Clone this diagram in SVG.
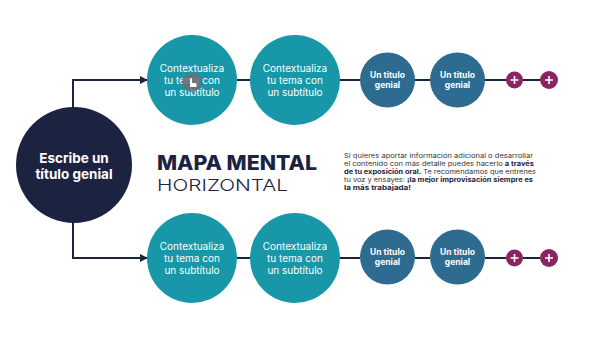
<svg xmlns="http://www.w3.org/2000/svg" width="600" height="338" viewBox="0 0 600 338">
<defs>
<marker id="arr" viewBox="0 0 10 10" refX="9" refY="5" markerWidth="4" markerHeight="4" orient="auto"><path d="M0,0 L10,5 L0,10 z" fill="#1c2340"/></marker>
<style>
.ln{stroke:#1c2340;stroke-width:2;fill:none}
.teal{fill:#1797a8}
.blue{fill:#2e6b90}
.plus{fill:#8b2463}
.tt{font-family:Inter,"Open Sans",sans-serif;fill:#fff;font-size:10px;text-anchor:middle}
.bt{font-family:Inter,"Open Sans",sans-serif;fill:#fff;font-size:8.5px;font-weight:bold;text-anchor:middle}
.pl{stroke:#fff;stroke-width:1.6}
.para{font-family:Inter,"Open Sans",sans-serif;font-size:6.6px;fill:#333}
.para tspan.b{font-weight:bold;fill:#1c2340}
</style>
</defs>
<rect width="600" height="338" fill="#fff"/>
<g id="connectors">
<path class="ln" d="M73,108 V80 H147" marker-end="url(#arr)"/>
<path class="ln" d="M73,222 V258 H147" marker-end="url(#arr)"/>
<path class="ln" d="M237,80 H250 M340,80 H360 M415,80 H430 M485,80 H506 M523,80 H540"/>
<path class="ln" d="M237,258 H250 M340,258 H360 M415,258 H430 M485,258 H506 M523,258 H540"/>
</g>
<g id="main"><circle cx="74" cy="165" r="58" fill="#1c2340"/>
<text x="74" y="163" font-family="Inter,'Open Sans',sans-serif" font-size="13.5" font-weight="bold" fill="#fff" text-anchor="middle">Escribe un</text>
<text x="74" y="179" font-family="Inter,'Open Sans',sans-serif" font-size="13.5" font-weight="bold" fill="#fff" text-anchor="middle">título genial</text></g>
<g id="t1"><circle class="teal" cx="192" cy="80" r="45"/><text class="tt" x="192" y="72">Contextualiza</text><text class="tt" x="192" y="84">tu tema con</text><text class="tt" x="192" y="96">un subtítulo</text>
<circle cx="192" cy="82" r="10" fill="#6b6f78" opacity="0.85"/><path d="M190,87 v-8 a1,1 0 0 1 2,0 v4 h3 a1.5,1.5 0 0 1 1.5,1.5 v2.5 h-6.5z" fill="#fff"/></g>
<g id="t2"><circle class="teal" cx="295" cy="80" r="45"/><text class="tt" x="295" y="72">Contextualiza</text><text class="tt" x="295" y="84">tu tema con</text><text class="tt" x="295" y="96">un subtítulo</text></g>
<g id="t3"><circle class="blue" cx="387.5" cy="80" r="27.5"/><text class="bt" x="387.5" y="78">Un titulo</text><text class="bt" x="387.5" y="88">genial</text></g>
<g id="t4"><circle class="blue" cx="457.5" cy="80" r="27.5"/><text class="bt" x="457.5" y="78">Un titulo</text><text class="bt" x="457.5" y="88">genial</text></g>
<g id="t5"><circle class="plus" cx="514.5" cy="80" r="8.5"/><path class="pl" d="M510.5,80 h8 M514.5,76 v8"/></g>
<g id="t6"><circle class="plus" cx="549" cy="80" r="9"/><path class="pl" d="M545,80 h8 M549,76 v8"/></g>
<g id="b1"><circle class="teal" cx="192" cy="258" r="45"/><text class="tt" x="192" y="250">Contextualiza</text><text class="tt" x="192" y="262">tu tema con</text><text class="tt" x="192" y="274">un subtítulo</text></g>
<g id="b2"><circle class="teal" cx="295" cy="258" r="45"/><text class="tt" x="295" y="250">Contextualiza</text><text class="tt" x="295" y="262">tu tema con</text><text class="tt" x="295" y="274">un subtítulo</text></g>
<g id="b3"><circle class="blue" cx="387.5" cy="257" r="27.5"/><text class="bt" x="387.5" y="255">Un titulo</text><text class="bt" x="387.5" y="265">genial</text></g>
<g id="b4"><circle class="blue" cx="457.5" cy="257" r="27.5"/><text class="bt" x="457.5" y="255">Un titulo</text><text class="bt" x="457.5" y="265">genial</text></g>
<g id="b5"><circle class="plus" cx="514.5" cy="258" r="8.5"/><path class="pl" d="M510.5,258 h8 M514.5,254 v8"/></g>
<g id="b6"><circle class="plus" cx="549" cy="258" r="9"/><path class="pl" d="M545,258 h8 M549,254 v8"/></g>
<g id="title">
<text x="157" y="170" font-family="Inter,'Open Sans',sans-serif" font-size="20.5" font-weight="800" fill="#1c2340" textLength="160" lengthAdjust="spacingAndGlyphs">MAPA MENTAL</text>
<text x="157" y="191" font-family="Inter,'Open Sans',sans-serif" font-size="16.5" font-weight="300" fill="#1c2340" textLength="131" lengthAdjust="spacingAndGlyphs">HORIZONTAL</text>
</g>
<g id="desc" class="para">
<text x="344" y="158" textLength="189" lengthAdjust="spacingAndGlyphs">Si quieres aportar información adicional o desarrollar</text>
<text x="344" y="166" textLength="190" lengthAdjust="spacingAndGlyphs">el contenido con más detalle puedes hacerlo <tspan class="b">a través</tspan></text>
<text x="344" y="174" textLength="192" lengthAdjust="spacingAndGlyphs"><tspan class="b">de tu exposición oral.</tspan> Te recomendamos que entrenes</text>
<text x="344" y="182" textLength="189" lengthAdjust="spacingAndGlyphs">tu voz y ensayes: <tspan class="b">¡la mejor improvisación siempre es</tspan></text>
<text x="344" y="190" textLength="67" lengthAdjust="spacingAndGlyphs"><tspan class="b">la más trabajada!</tspan></text>
</g>
</svg>
